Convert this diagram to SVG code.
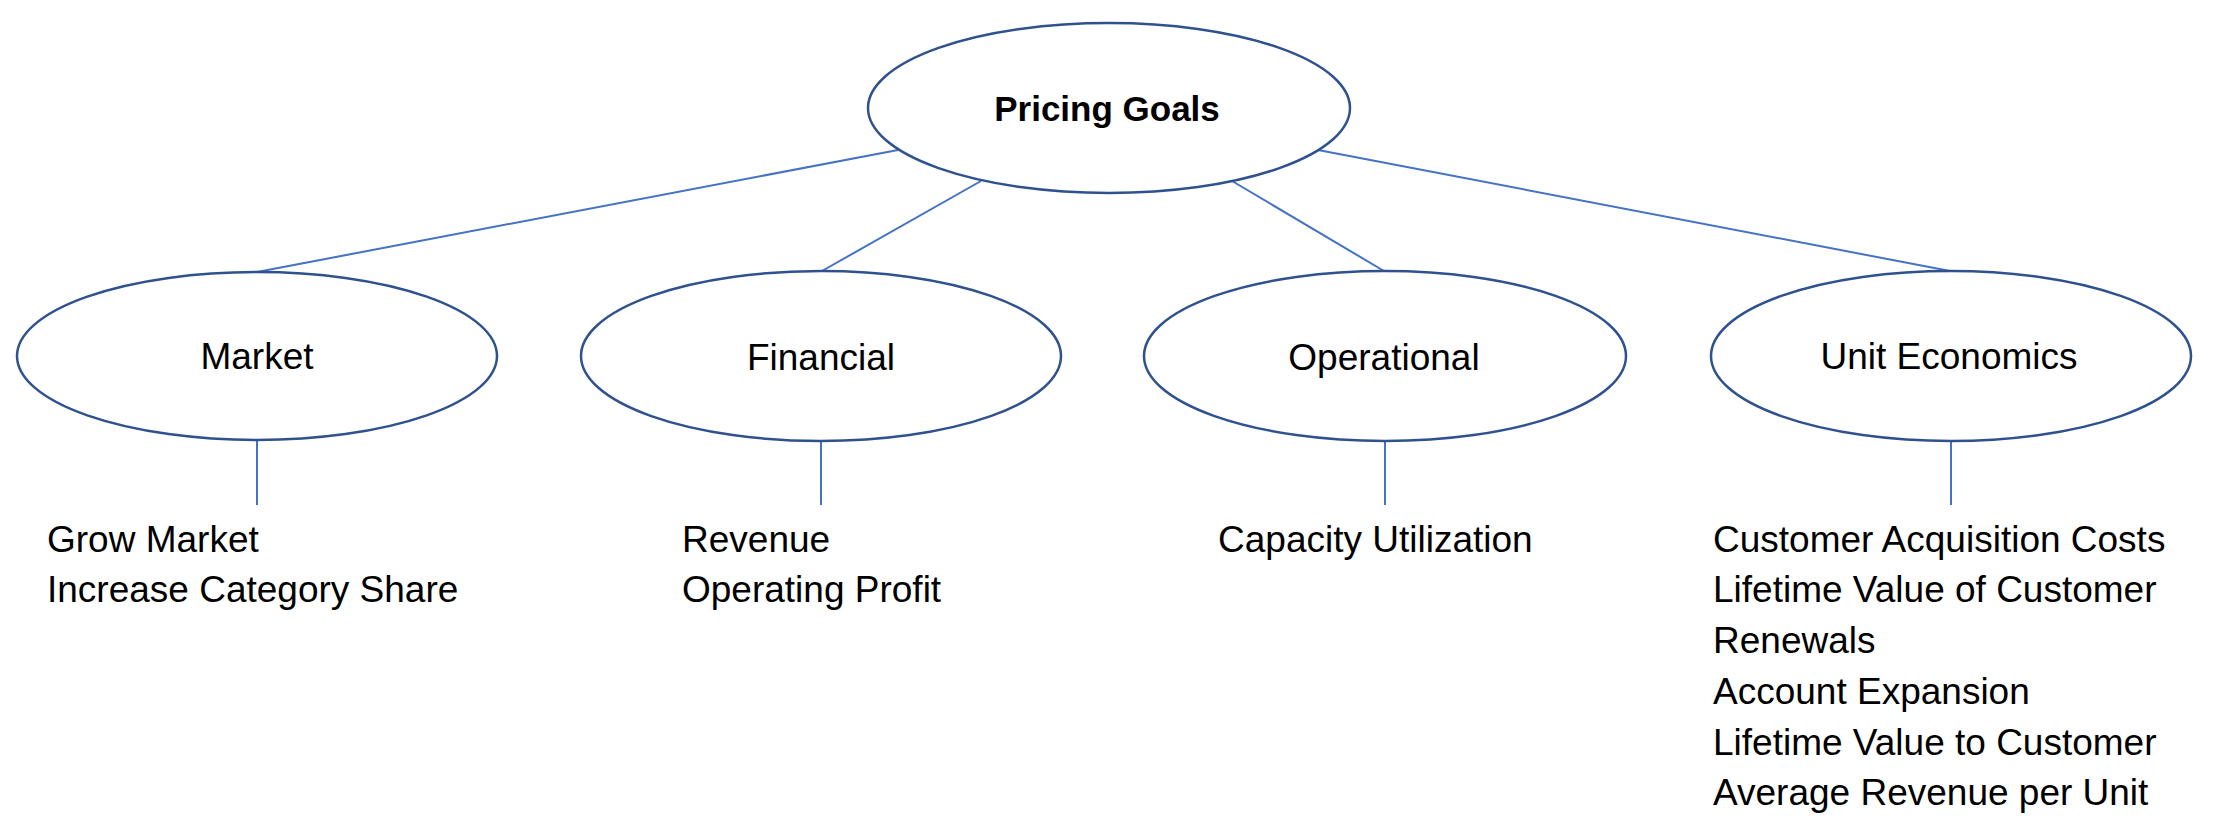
<svg xmlns="http://www.w3.org/2000/svg" width="2216" height="836" viewBox="0 0 2216 836">
<style>
.node ellipse{fill:#ffffff;stroke:#2F528F;stroke-width:2.5}
.conn line{stroke:#4472C4;stroke-width:2}
text{font-family:"Liberation Sans",Arial,sans-serif;fill:#000000}
.lbl{font-size:37px;text-anchor:middle}
.title{font-size:35px;font-weight:bold;text-anchor:middle}
.item{font-size:37px}
</style>
<rect width="2216" height="836" fill="#ffffff"/>
<g id="connectors" class="conn">
<line x1="898" y1="150" x2="257" y2="272"/>
<line x1="981" y1="181" x2="822" y2="271"/>
<line x1="1232" y1="181" x2="1384" y2="271"/>
<line x1="1318" y1="150" x2="1950" y2="271"/>
<line x1="257" y1="440" x2="257" y2="505"/>
<line x1="821" y1="441" x2="821" y2="505"/>
<line x1="1385" y1="441" x2="1385" y2="505"/>
<line x1="1951" y1="441" x2="1951" y2="505"/>
</g>
<g id="node-pricing-goals" class="node">
<ellipse cx="1109" cy="108" rx="241" ry="85"/>
<text class="title" x="1107" y="121">Pricing Goals</text>
</g>
<g id="node-market" class="node">
<ellipse cx="257" cy="356" rx="240" ry="84"/>
<text class="lbl" x="257" y="369">Market</text>
</g>
<g id="node-financial" class="node">
<ellipse cx="821" cy="356" rx="240" ry="85"/>
<text class="lbl" x="821" y="370">Financial</text>
</g>
<g id="node-operational" class="node">
<ellipse cx="1385" cy="356" rx="241" ry="85"/>
<text class="lbl" x="1384" y="370">Operational</text>
</g>
<g id="node-unit-economics" class="node">
<ellipse cx="1951" cy="356" rx="240" ry="85"/>
<text class="lbl" x="1949" y="369">Unit Economics</text>
</g>
<g id="list-market">
<text class="item" x="47" y="552">Grow Market</text>
<text class="item" x="47" y="602">Increase Category Share</text>
</g>
<g id="list-financial">
<text class="item" x="682" y="552">Revenue</text>
<text class="item" x="682" y="602">Operating Profit</text>
</g>
<g id="list-operational">
<text class="item" x="1218" y="552">Capacity Utilization</text>
</g>
<g id="list-unit-economics">
<text class="item" x="1713" y="552">Customer Acquisition Costs</text>
<text class="item" x="1713" y="602">Lifetime Value of Customer</text>
<text class="item" x="1713" y="653">Renewals</text>
<text class="item" x="1713" y="704">Account Expansion</text>
<text class="item" x="1713" y="755">Lifetime Value to Customer</text>
<text class="item" x="1713" y="805">Average Revenue per Unit</text>
</g>
</svg>
